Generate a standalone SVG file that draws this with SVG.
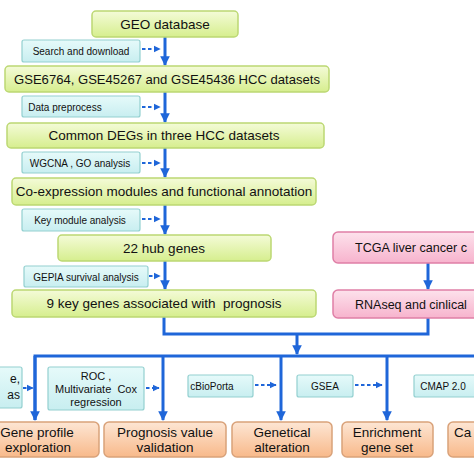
<svg xmlns="http://www.w3.org/2000/svg" width="474" height="474" viewBox="0 0 474 474">
<defs>
<linearGradient id="gG" x1="0" y1="0" x2="0" y2="1"><stop offset="0" stop-color="#f4fbd8"/><stop offset="1" stop-color="#d6ee8e"/></linearGradient>
<linearGradient id="gC" x1="0" y1="0" x2="0" y2="1"><stop offset="0" stop-color="#e6fafa"/><stop offset="1" stop-color="#c8eef0"/></linearGradient>
<linearGradient id="gP" x1="0" y1="0" x2="0" y2="1"><stop offset="0" stop-color="#fde2ec"/><stop offset="1" stop-color="#f7b3cd"/></linearGradient>
<linearGradient id="gO" x1="0" y1="0" x2="0" y2="1"><stop offset="0" stop-color="#fde6d4"/><stop offset="1" stop-color="#f8b98a"/></linearGradient>
<marker id="ah" viewBox="0 0 10 10" refX="9" refY="5" markerWidth="3.2" markerHeight="3.2" orient="auto" markerUnits="strokeWidth"><path d="M0,0 L10,5 L0,10 z" fill="#1f66d9"/></marker>
<marker id="ahs" viewBox="0 0 10 10" refX="9" refY="5" markerWidth="4" markerHeight="4" orient="auto" markerUnits="strokeWidth"><path d="M0,0 L10,5 L0,10 z" fill="#1f66d9"/></marker>
</defs>
<style>
text{font-family:"Liberation Sans",Arial,sans-serif;fill:#111;text-anchor:middle}
.g{fill:url(#gG);stroke:#bcd873;stroke-width:1.5}
.c{fill:url(#gC);stroke:#93d0d0;stroke-width:1.2}
.p{fill:url(#gP);stroke:#df7fa6;stroke-width:1.5}
.o{fill:url(#gO);stroke:#d9a27a;stroke-width:1.5}
.t1{font-size:13.5px}
.t2{font-size:10px}
.t3{font-size:12px}
.ln{fill:none;stroke:#1f66d9;stroke-width:3}
.da{fill:none;stroke:#1f66d9;stroke-width:1.8;stroke-dasharray:3.5,2.5}
</style>
<rect width="474" height="474" fill="#ffffff"/>
<g id="connectors">
<line class="ln" x1="165" y1="37" x2="165" y2="65" marker-end="url(#ah)"/>
<line class="ln" x1="165" y1="92" x2="165" y2="122" marker-end="url(#ah)"/>
<line class="ln" x1="165" y1="148" x2="165" y2="177" marker-end="url(#ah)"/>
<line class="ln" x1="165" y1="205" x2="165" y2="234" marker-end="url(#ah)"/>
<line class="ln" x1="165" y1="261" x2="165" y2="289" marker-end="url(#ah)"/>
<line class="ln" x1="428" y1="263" x2="428" y2="289" marker-end="url(#ah)"/>
<polyline class="ln" points="164,317 164,334 428,334 428,318"/>
<line class="ln" x1="297" y1="334" x2="297" y2="354" marker-end="url(#ah)"/>
<polyline class="ln" points="35,420 35,356 474,356"/>
<line class="ln" x1="35" y1="356" x2="35" y2="420" marker-end="url(#ah)"/>
<line class="ln" x1="163" y1="356" x2="163" y2="420" marker-end="url(#ah)"/>
<line class="ln" x1="281" y1="356" x2="281" y2="420" marker-end="url(#ah)"/>
<line class="ln" x1="387" y1="356" x2="387" y2="420" marker-end="url(#ah)"/>
<line class="da" x1="142" y1="49" x2="160" y2="49" marker-end="url(#ahs)"/>
<line class="da" x1="142" y1="107" x2="160" y2="107" marker-end="url(#ahs)"/>
<line class="da" x1="142" y1="163" x2="160" y2="163" marker-end="url(#ahs)"/>
<line class="da" x1="142" y1="219" x2="160" y2="219" marker-end="url(#ahs)"/>
<line class="da" x1="149" y1="276" x2="160" y2="276" marker-end="url(#ahs)"/>
<line class="da" x1="23" y1="388" x2="33" y2="388" marker-end="url(#ahs)"/>
<line class="da" x1="146" y1="388" x2="159" y2="388" marker-end="url(#ahs)"/>
<line class="da" x1="255" y1="385" x2="276" y2="385" marker-end="url(#ahs)"/>
<line class="da" x1="355" y1="385" x2="382" y2="385" marker-end="url(#ahs)"/>
</g>
<g id="geo"><rect class="g" x="92" y="11" width="146" height="26" rx="4"/><text class="t1" x="165" y="29">GEO database</text></g>
<g id="search"><rect class="c" x="22" y="40" width="118" height="22" rx="2"/><text class="t2" x="81" y="55">Search and download</text></g>
<g id="gse"><rect class="g" x="5" y="66" width="324" height="26" rx="4"/><text class="t1" x="167" y="84" textLength="306" lengthAdjust="spacingAndGlyphs">GSE6764, GSE45267 and GSE45436 HCC datasets</text></g>
<g id="preprocess"><rect class="c" x="22" y="96" width="118" height="21" rx="2"/><text class="t2" x="65" y="111">Data preprocess</text></g>
<g id="degs"><rect class="g" x="7" y="123" width="317" height="25" rx="4"/><text class="t1" x="164" y="140">Common DEGs in three HCC datasets</text></g>
<g id="wgcna"><rect class="c" x="22" y="152" width="118" height="21" rx="2"/><text class="t2" x="80" y="167">WGCNA , GO analysis</text></g>
<g id="coexp"><rect class="g" x="12" y="178" width="304" height="27" rx="4"/><text class="t1" x="164" y="196">Co-expression modules and functional annotation</text></g>
<g id="keymod"><rect class="c" x="22" y="209" width="118" height="22" rx="2"/><text class="t2" x="80" y="224">Key module analysis</text></g>
<g id="hub"><rect class="g" x="58" y="235" width="213" height="26" rx="4"/><text class="t1" x="164" y="253">22 hub genes</text></g>
<g id="gepia"><rect class="c" x="24" y="266" width="124" height="21" rx="2"/><text class="t2" x="86" y="281">GEPIA survival analysis</text></g>
<g id="key9"><rect class="g" x="12" y="290" width="304" height="27" rx="4"/><text class="t1" x="164" y="308">9 key genes associated with&#160; prognosis</text></g>
<g id="tcga"><rect class="p" x="333" y="232" width="160" height="31" rx="5"/><text class="t1" x="355" y="252" style="text-anchor:start" textLength="112" lengthAdjust="spacingAndGlyphs">TCGA liver cancer c</text></g>
<g id="rnaseq"><rect class="p" x="333" y="290" width="160" height="28" rx="5"/><text x="355" y="309" style="text-anchor:start;font-size:12.5px">RNAseq and cinlical</text></g>
<g id="leftmethod"><rect class="c" x="-40" y="367" width="62" height="41" rx="2"/><text class="t3" x="20" y="383" style="text-anchor:end">e,</text><text class="t3" x="20" y="399" style="text-anchor:end">as</text></g>
<g id="roc"><rect class="c" x="48" y="367" width="96" height="43" rx="2"/><text class="t2" x="96" y="380" style="font-size:11px">ROC ,</text><text class="t2" x="96" y="393" style="font-size:11px">Multivariate&#160; Cox</text><text class="t2" x="96" y="406" style="font-size:11px">regression</text></g>
<g id="cbio"><rect class="c" x="188" y="375" width="65" height="22" rx="2"/><text class="t2" x="212" y="390">cBioPorta</text></g>
<g id="gsea"><rect class="c" x="297" y="375" width="56" height="22" rx="2"/><text class="t2" x="325" y="390">GSEA</text></g>
<g id="cmap"><rect class="c" x="414" y="375" width="70" height="22" rx="2"/><text class="t2" x="443" y="390">CMAP 2.0</text></g>
<g id="geneprofile"><rect class="o" x="-30" y="422" width="129" height="35" rx="5"/><text class="t1" x="37" y="437">Gene profile</text><text class="t1" x="38" y="452">exploration</text></g>
<g id="prognosis"><rect class="o" x="104" y="422" width="122" height="35" rx="5"/><text class="t1" x="165" y="437">Prognosis value</text><text class="t1" x="165" y="452">validation</text></g>
<g id="genetical"><rect class="o" x="232" y="422" width="100" height="35" rx="5"/><text class="t1" x="282" y="437">Genetical</text><text class="t1" x="282" y="452">alteration</text></g>
<g id="enrichment"><rect class="o" x="342" y="422" width="91" height="35" rx="5"/><text class="t1" x="387" y="437">Enrichment</text><text class="t1" x="387" y="452">gene set</text></g>
<g id="candidate"><rect class="o" x="448" y="422" width="60" height="35" rx="5"/><text class="t1" x="454" y="437" style="text-anchor:start">Ca</text></g>
</svg>
